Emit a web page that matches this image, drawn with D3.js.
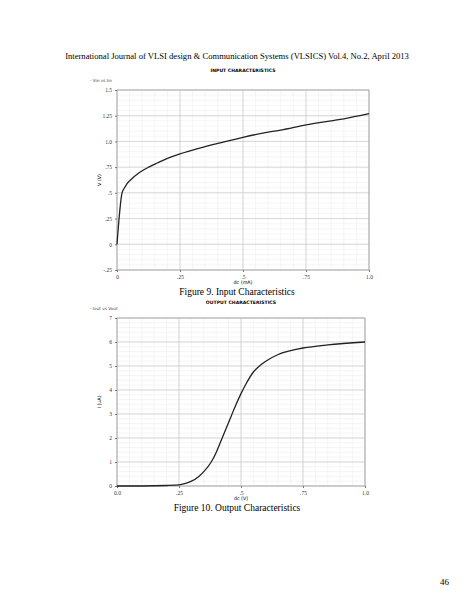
<!DOCTYPE html>
<html><head><meta charset="utf-8">
<script src="https://cdn.jsdelivr.net/npm/d3@7"></script>
<style>body{margin:0;background:#fff}</style></head>
<body><svg id="page" width="474" height="613"></svg>
<script>
// input characteristics: current (mA) vs voltage (V)
const inX = [0, 0.02, 0.03, 0.04, 0.06, 0.08, 0.1, 0.13, 0.16, 0.2, 0.25, 0.3, 0.35, 0.4, 0.5, 0.6, 0.65, 0.75, 0.85, 0.9, 1.0];
const inY = [0, 0.5, 0.55, 0.59, 0.64, 0.68, 0.715, 0.755, 0.79, 0.835, 0.88, 0.915, 0.95, 0.98, 1.04, 1.09, 1.11, 1.16, 1.2, 1.22, 1.27];
const inYTicks = [-0.25, 0, 0.25, 0.5, 0.75, 1.0, 1.25, 1.5];
const inYLabels = ["-.25", "0", ".25", ".5", ".75", "1.0", "1.25", "1.5"];
const inXLabels = ["0", ".25", ".5", ".75", "1.0"];
// output characteristics
const outX = [0, 0.1, 0.2, 0.25, 0.28, 0.3, 0.33, 0.35, 0.38, 0.4, 0.42, 0.44, 0.46, 0.48, 0.5, 0.52, 0.55, 0.58, 0.6, 0.65, 0.7, 0.75, 0.85, 1.0];
const outY = [0, 0.0, 0.02, 0.05, 0.12, 0.2, 0.4, 0.6, 1.0, 1.4, 1.9, 2.4, 2.9, 3.4, 3.85, 4.25, 4.75, 5.05, 5.2, 5.48, 5.64, 5.75, 5.88, 6.0];
const outYTicks = [0, 1, 2, 3, 4, 5, 6, 7];
const outXLabels = ["0.0", ".25", ".5", ".75", "1.0"];
const xTicks = [0, 0.25, 0.5, 0.75, 1.0];

const svg = d3.select("#page");
const serif = "Liberation Serif, Times New Roman, serif";
const sans = "DejaVu Sans, sans-serif";

svg.append("text").attr("x", 237).attr("y", 59).attr("text-anchor", "middle")
  .attr("font-family", serif).attr("font-size", 8.6)
  .text("International Journal of VLSI design & Communication Systems (VLSICS) Vol.4, No.2, April 2013");
svg.append("text").attr("x", 440).attr("y", 585).attr("font-family", serif).attr("font-size", 9).text("46");

function chart(o) {
  const x = d3.scaleLinear().domain([0, 1]).range([o.left, o.right]);
  const y = d3.scaleLinear().domain(o.yDomain).range([o.bottom, o.top]);
  const g = svg.append("g");
  g.append("text").attr("x", (o.left + o.right) / 2).attr("y", o.top - o.titleGap).attr("text-anchor", "middle")
    .attr("font-family", sans).attr("font-size", 4.6).attr("font-weight", "bold").text(o.title);
  g.append("text").attr("x", o.left - 27).attr("y", o.top - 8).attr("font-family", sans).attr("font-size", 4.2)
    .attr("fill", "#444").text("- " + o.legend);
  // minor grid
  const minorX = d3.range(0, 1.0001, 0.05);
  const [y0, y1] = o.yDomain;
  const minorY = d3.range(y0, y1 + 1e-6, o.minor);
  g.selectAll(".mx").data(minorX).join("line").attr("x1", d => x(d)).attr("x2", d => x(d))
    .attr("y1", o.top).attr("y2", o.bottom).attr("stroke", "#ececec").attr("stroke-width", 0.5);
  g.selectAll(".my").data(minorY).join("line").attr("y1", d => y(d)).attr("y2", d => y(d))
    .attr("x1", o.left).attr("x2", o.right).attr("stroke", "#ececec").attr("stroke-width", 0.5);
  g.selectAll(".Mx").data(xTicks).join("line").attr("x1", d => x(d)).attr("x2", d => x(d))
    .attr("y1", o.top).attr("y2", o.bottom).attr("stroke", "#c8c8c8").attr("stroke-width", 0.7);
  g.selectAll(".My").data(o.yTicks).join("line").attr("y1", d => y(d)).attr("y2", d => y(d))
    .attr("x1", o.left).attr("x2", o.right).attr("stroke", "#c8c8c8").attr("stroke-width", 0.7);
  g.append("rect").attr("x", o.left).attr("y", o.top).attr("width", o.right - o.left).attr("height", o.bottom - o.top)
    .attr("fill", "none").attr("stroke", "#999").attr("stroke-width", 0.7);
  const xa = g.append("g").attr("transform", `translate(0,${o.bottom})`)
    .call(d3.axisBottom(x).tickValues(xTicks).tickSize(2).tickFormat((d, i) => o.xLabels[i]));
  const ya = g.append("g").attr("transform", `translate(${o.left},0)`)
    .call(d3.axisLeft(y).tickValues(o.yTicks).tickSize(2).tickFormat((d, i) => o.yLabels[i]));
  [xa, ya].forEach(a => {
    a.select(".domain").remove();
    a.selectAll("text").attr("font-family", serif).attr("font-size", 5.5).attr("fill", "#333");
    a.selectAll("line").attr("stroke", "#777");
  });
  g.append("text").attr("x", (o.left + o.right) / 2).attr("y", o.bottom + 14).attr("text-anchor", "middle")
    .attr("font-family", sans).attr("font-size", 4.8).text(o.xTitle);
  g.append("text").attr("transform", `translate(${o.left - 16},${(o.top + o.bottom) / 2}) rotate(-90)`)
    .attr("text-anchor", "middle").attr("font-family", sans).attr("font-size", 4.8).text(o.yTitle);
  g.append("path").datum(d3.zip(o.xs, o.ys)).attr("fill", "none").attr("stroke", "#222").attr("stroke-width", 1.3)
    .attr("d", d3.line().x(d => x(d[0])).y(d => y(d[1])).curve(d3.curveMonotoneX));
  g.append("text").attr("x", 237).attr("y", o.bottom + 25).attr("text-anchor", "middle")
    .attr("font-family", serif).attr("font-size", 9.5).text(o.caption);
}

chart({left: 117, right: 369, top: 90, bottom: 270, yDomain: [-0.25, 1.5], yTicks: inYTicks, yLabels: inYLabels,
  minor: 0.05, xLabels: inXLabels, xs: inX, ys: inY, title: "INPUT CHARACTERISTICS", legend: "Vin vs Iin",
  xTitle: "dc (mA)", yTitle: "V (V)", caption: "Figure 9. Input Characteristics", titleGap: 18});
chart({left: 117, right: 365, top: 318, bottom: 486, yDomain: [0, 7], yTicks: outYTicks, yLabels: outYTicks.map(String),
  minor: 0.2, xLabels: outXLabels, xs: outX, ys: outY, title: "OUTPUT CHARACTERISTICS", legend: "Iout vs Vout",
  xTitle: "dc (V)", yTitle: "I (uA)", caption: "Figure 10. Output Characteristics", titleGap: 14});
</script></body></html>
